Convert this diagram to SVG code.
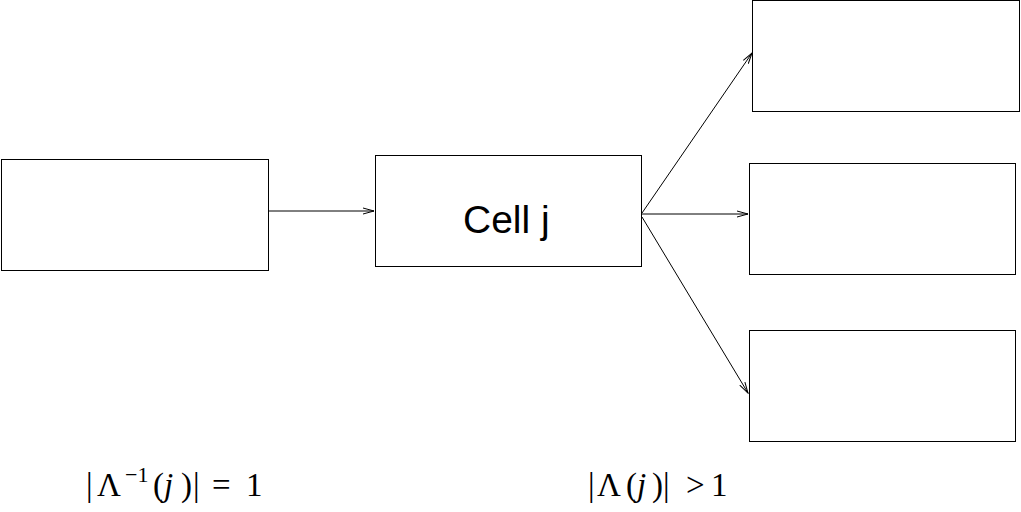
<svg xmlns="http://www.w3.org/2000/svg" width="1021" height="512" viewBox="0 0 1021 512">
<style>
.box{fill:#fff;stroke:#000;stroke-width:1}
.con{fill:none;stroke:#000;stroke-width:1}
.lbl{font-family:"Liberation Sans",Arial,sans-serif;font-size:39px;fill:#000}
.math{font-family:"Liberation Serif","Times New Roman",serif;font-size:33px;fill:#000}
.it{font-style:italic}
</style>
<defs>
<marker id="ah" markerWidth="12" markerHeight="8" refX="11" refY="4" orient="auto" markerUnits="userSpaceOnUse">
<path d="M0,1 L11,4 L0,7" fill="none" stroke="#000" stroke-width="1"/>
</marker>
</defs>
<rect width="1021" height="512" fill="#fff"/>
<g id="connectors">
<line class="con" x1="268" y1="211" x2="374" y2="211" marker-end="url(#ah)"/>
<line class="con" x1="642" y1="213" x2="752" y2="53" marker-end="url(#ah)"/>
<line class="con" x1="642" y1="214" x2="748" y2="214" marker-end="url(#ah)"/>
<line class="con" x1="642" y1="217" x2="748" y2="393" marker-end="url(#ah)"/>
</g>
<g id="node-left"><rect class="box" x="1.5" y="159.5" width="267" height="111"/></g>
<g id="node-cell"><rect class="box" x="375.5" y="155.5" width="266" height="111"/>
<text class="lbl" x="463" y="233">Cell j</text></g>
<g id="node-top"><rect class="box" x="752.5" y="0.5" width="267" height="111"/></g>
<g id="node-mid"><rect class="box" x="749.5" y="163.5" width="266" height="111"/></g>
<g id="node-bot"><rect class="box" x="749.5" y="330.5" width="266" height="111"/></g>
<g id="label-left">
<text class="math" y="496"><tspan x="86">|</tspan><tspan x="97">Λ</tspan><tspan x="125" y="482" font-size="22">−1</tspan><tspan x="153" y="496">(</tspan><tspan class="it" x="164">j</tspan><tspan x="181">)</tspan><tspan x="193">|</tspan><tspan x="212">=</tspan><tspan x="246">1</tspan></text>
</g>
<g id="label-right">
<text class="math" y="496"><tspan x="588">|</tspan><tspan x="597">Λ</tspan><tspan x="626">(</tspan><tspan class="it" x="637">j</tspan><tspan x="652">)</tspan><tspan x="663">|</tspan><tspan x="686">&gt;</tspan><tspan x="711">1</tspan></text>
</g>
</svg>
